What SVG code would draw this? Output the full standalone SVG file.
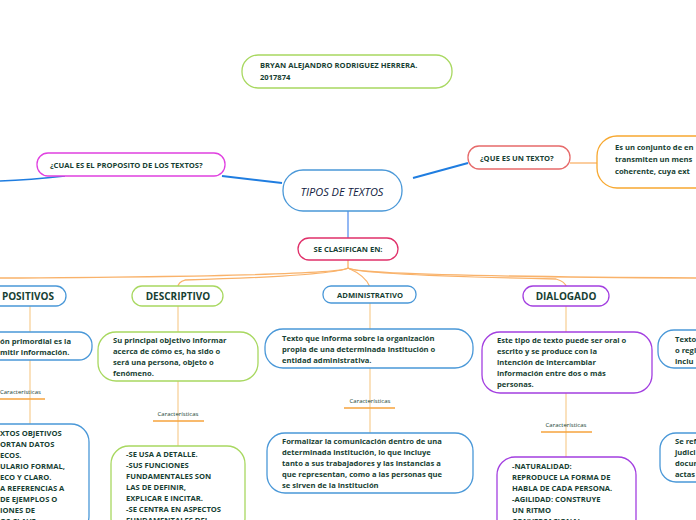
<svg xmlns="http://www.w3.org/2000/svg" width="696" height="520" viewBox="0 0 696 520">
<style>
text{font-family:"Open Sans","Liberation Sans",sans-serif;font-weight:bold;fill:#173f33;font-size:7.6px}
.b{fill:#fff;stroke-width:1.3}
.blue{stroke:#4a98d8}.green{stroke:#a8d860}.purple{stroke:#a33fe0}
.or{fill:none;stroke:#f9b26a;stroke-width:1.3}
.ol{fill:none;stroke:#f9d8a8;stroke-width:1.5}
.cl{stroke:#f6a33c;stroke-width:1.5}
.car{font-weight:normal;font-size:6px}
.h{font-size:10px;text-anchor:middle}
.t{font-size:11px;font-style:italic;font-weight:normal;text-anchor:middle;fill:#102040}
</style>
<g id="connectors">
<path d="M282 183 L222 176" stroke="#1f7de0" stroke-width="2" fill="none"/>
<path d="M65 176 Q30 180 0 181" stroke="#1f7de0" stroke-width="1.5" fill="none"/>
<path d="M413 178 L468 163" stroke="#1f7de0" stroke-width="2" fill="none"/>
<path d="M570 163 L597 163" class="or"/>
<path d="M348 211 L348 238" stroke="#6fa0f0" stroke-width="1.5"/>
<path d="M348 260 L348 268 Q340 276 0 278" class="or"/>
<path d="M348 268 Q330 276 185 280 Q178 282 178 287" class="or"/>
<path d="M348 268 Q366 276 370 287" class="or"/>
<path d="M348 268 Q360 275 556 279 Q566 282 566 287" class="or"/>
<path d="M348 268 Q360 276 696 278" class="or"/>
<path d="M30 306 V332 M30 360 V424" class="ol"/>
<path d="M178 306 V332 M178 381 V446" class="ol"/>
<path d="M370 303 V329 M370 368 V433" class="ol"/>
<path d="M566 306 V332 M566 393 V457" class="ol"/>
<line x1="0" y1="399" x2="45" y2="399" class="cl"/>
<line x1="153" y1="421" x2="204" y2="421" class="cl"/>
<line x1="344" y1="408" x2="395" y2="408" class="cl"/>
<line x1="541" y1="432" x2="592" y2="432" class="cl"/>
</g>
<g id="autor"><rect x="242" y="55" width="210" height="33" rx="16" class="b green"/><text x="260" y="68">BRYAN ALEJANDRO RODRIGUEZ HERRERA.</text><text x="260" y="80">2017874</text></g>
<g id="central"><rect x="283" y="170" width="119" height="41" rx="20" class="b blue"/><text x="342" y="196" class="t">TIPOS DE TEXTOS</text></g>
<g id="proposito"><rect x="37" y="153" width="188" height="23" rx="11" class="b" stroke="#e040e0"/><text x="50" y="168">¿CUAL ES EL PROPOSITO DE LOS TEXTOS?</text></g>
<g id="quees"><rect x="468" y="146" width="102" height="23" rx="11" class="b" stroke="#e66a6a"/><text x="480" y="161">¿QUE ES UN TEXTO?</text></g>
<g id="definicion"><rect x="597" y="136" width="120" height="52" rx="20" class="b" stroke="#f7a830"/><text x="615" y="150">Es un conjunto de en</text><text x="615" y="162">transmiten un mens</text><text x="615" y="174">coherente, cuya ext</text></g>
<g id="clasifican"><rect x="298" y="238" width="100" height="22" rx="11" class="b" stroke="#e0306a"/><text x="348" y="252" text-anchor="middle">SE CLASIFICAN EN:</text></g>
<g id="expositivos"><rect x="-20" y="286" width="86" height="20" rx="10" class="b blue"/><text x="54" y="300" class="h" style="text-anchor:end">POSITIVOS</text></g>
<g id="exp-desc"><rect x="-20" y="332" width="112" height="28" rx="13" class="b blue"/><text x="0" y="344">ón primordial es la</text><text x="0" y="355">mitir información.</text></g>
<g id="exp-car"><text x="0" y="394" class="car">Características</text></g>
<g id="exp-list"><rect x="-20" y="424" width="109" height="110" rx="18" class="b blue"/>
<text x="0" y="436">XTOS OBJETIVOS</text><text x="0" y="447">ORTAN DATOS</text><text x="0" y="458">ECOS.</text><text x="0" y="469">ULARIO FORMAL,</text><text x="0" y="480">ECO Y CLARO.</text><text x="0" y="491">A REFERENCIAS A</text><text x="0" y="502">DE EJEMPLOS O</text><text x="0" y="513">IONES DE</text><text x="0" y="524">OS CLAVE.</text></g>
<g id="descriptivo"><rect x="132" y="286" width="91" height="20" rx="10" class="b green"/><text x="178" y="300" class="h">DESCRIPTIVO</text></g>
<g id="desc-desc"><rect x="98" y="332" width="160" height="49" rx="18" class="b green"/><text x="113" y="343">Su principal objetivo informar</text><text x="113" y="354">acerca de cómo es, ha sido o</text><text x="113" y="365">será una persona, objeto o</text><text x="113" y="376">fenómeno.</text></g>
<g id="desc-car"><text x="178" y="416" class="car" text-anchor="middle">Características</text></g>
<g id="desc-list"><rect x="111" y="446" width="134" height="90" rx="18" class="b green"/>
<text x="126" y="457">-SE USA A DETALLE.</text><text x="126" y="468">-SUS FUNCIONES</text><text x="126" y="479">FUNDAMENTALES SON</text><text x="126" y="490">LAS DE DEFINIR,</text><text x="126" y="501">EXPLICAR E INCITAR.</text><text x="126" y="512">-SE CENTRA EN ASPECTOS</text><text x="126" y="523">FUNDAMENTALES DEL</text></g>
<g id="administrativo"><rect x="323" y="286" width="93" height="17" rx="8" class="b blue"/><text x="370" y="298" text-anchor="middle">ADMINISTRATIVO</text></g>
<g id="adm-desc"><rect x="265" y="329" width="208" height="39" rx="18" class="b blue"/><text x="282" y="341">Texto que informa sobre la organización</text><text x="282" y="352">propia de una determinada institución o</text><text x="282" y="363">entidad administrativa.</text></g>
<g id="adm-car"><text x="370" y="403" class="car" text-anchor="middle">Características</text></g>
<g id="adm-list"><rect x="267" y="433" width="206" height="60" rx="18" class="b blue"/>
<text x="282" y="444">Formalizar la comunicación dentro de una</text><text x="282" y="455">determinada institución, lo que incluye</text><text x="282" y="466">tanto a sus trabajadores y las instancias a</text><text x="282" y="477">que representan, como a las personas que</text><text x="282" y="488">se sirven de la institución</text></g>
<g id="dialogado"><rect x="523" y="286" width="86" height="20" rx="10" class="b purple"/><text x="566" y="300" class="h">DIALOGADO</text></g>
<g id="dia-desc"><rect x="482" y="332" width="170" height="61" rx="18" class="b purple"/><text x="497" y="343">Este tipo de texto puede ser oral o</text><text x="497" y="354">escrito y se produce con la</text><text x="497" y="365">intención de intercambiar</text><text x="497" y="376">información entre dos o más</text><text x="497" y="387">personas.</text></g>
<g id="dia-car"><text x="566" y="427" class="car" text-anchor="middle">Características</text></g>
<g id="dia-list"><rect x="497" y="457" width="139" height="80" rx="18" class="b purple"/>
<text x="512" y="469">-NATURALIDAD:</text><text x="512" y="480">REPRODUCE LA FORMA DE</text><text x="512" y="491">HABLA DE CADA PERSONA.</text><text x="512" y="502">-AGILIDAD: CONSTRUYE</text><text x="512" y="513">UN RITMO</text><text x="512" y="524">CONVERSACIONAL</text></g>
<g id="der-desc"><rect x="658" y="330" width="60" height="38" rx="16" class="b blue"/><text x="675" y="342">Texto</text><text x="675" y="353">o regl</text><text x="675" y="364">inclu</text></g>
<g id="der-list"><rect x="660" y="433" width="60" height="49" rx="16" class="b blue"/><text x="675" y="444">Se ref</text><text x="675" y="455">judici</text><text x="675" y="466">docur</text><text x="675" y="477">actas</text></g>
</svg>
